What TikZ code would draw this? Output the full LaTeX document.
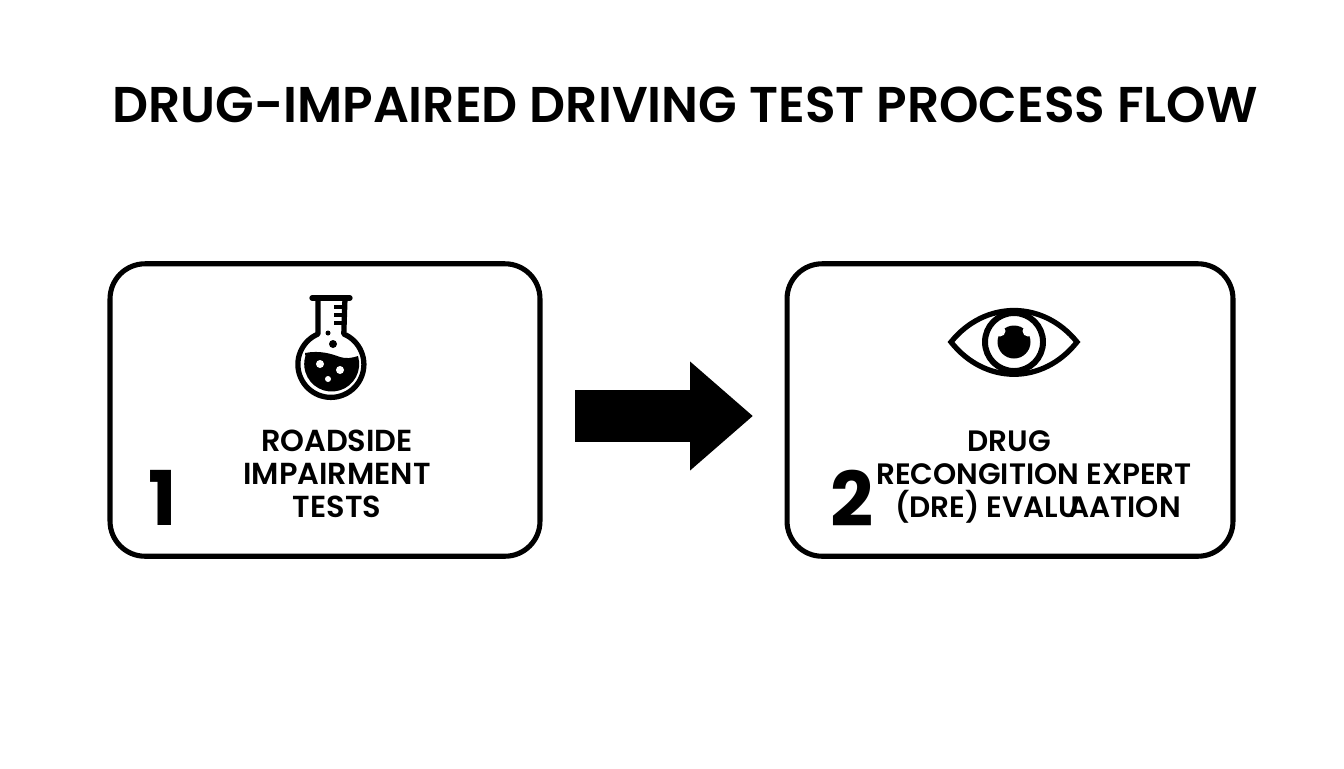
\documentclass[tikz,border=0pt]{standalone}
\usepackage{fontspec}
\setmainfont{Poppins SemiBold}[BoldFont=Poppins Bold]
\usetikzlibrary{arrows.meta, positioning}

\begin{document}
\begin{tikzpicture}[
            x=0.02cm, y=-0.02cm,
            % Style for the two rounded boxes
            stepbox/.style={draw, line width=2.9pt, rounded corners=0.7cm, minimum height=5.85cm, outer sep=0},
            % Style for the text lines inside the boxes
            info/.style={font=\fontsize{16.8}{20}\selectfont, inner sep=0},
            infobig/.style={font=\fontsize{17.3}{20}\selectfont, inner sep=0},
            % Style for the big numbers
            bignum/.style={font=\fontsize{43}{50}\selectfont\bfseries, inner sep=0},
            % Style for the icon strokes
            icon/.style={draw, line width=3pt, line join=round}
        ]
        \useasboundingbox (0,0) rectangle (1344,768);

        % --- Title ---
        \node[font=\fontsize{28.6}{34}\selectfont, inner sep=0] (title) at (685,105) {DRUG-IMPAIRED DRIVING TEST PROCESS FLOW};

        % --- Boxes ---
        \node[stepbox, minimum width=8.6cm] (roadside) at (325,410) {};
        \node[stepbox, minimum width=8.92cm] (dre) at (1010,410) {};

        % --- Numbers ---
        \node[bignum] (numone) at (163,498) {1};
        \node[bignum] (numtwo) at (852,498) {2};

        % --- Text of the first box ---
        \node[infobig] (roadline) at (337,441) {ROADSIDE};
        \node[infobig] (impairline) at (337,474) {IMPAIRMENT};
        \node[infobig] (testsline) at (337,507) {TESTS};

        % --- Text of the second box ---
        \node[info] (drugline) at (1009,441) {DRUG};
        \node[info] (reconline) at (1034,474) {RECONGITION EXPERT};
        \node[info] (evalline) at (1038,507) {(DRE) EVALU\kern-0.35em AATION};

        % --- Block arrow between the boxes ---
        \coordinate (arrowstart) at (575,416);
        \coordinate (arrowend) at (753,416);
        \draw[line width=30pt, -{Triangle[length=1.26cm, width=2.1cm]}] (arrowstart) -- (arrowend);

        % --- Flask icon ---
        \draw[icon, line cap=round] (312,298) -- (350,298);
        \draw[icon] (318,298) -- (318,334) arc[start angle=247, end angle=-67, radius=33] -- (345,298);
        % Scale marks on the neck
        \foreach \y in {307,315,323} {
            \draw[line width=2.3pt] (334,\y) -- (345,\y);
        }
        % Liquid
        \fill (305,353) .. controls (320,350) and (332,354) .. (340,357)
            .. controls (346,359) and (352,358) .. (358,356)
            arc[start angle=-17, end angle=197, radius=27.5] -- cycle;
        \fill (333,344) circle[radius=4];
        \fill (328,333) circle[radius=2.5];
        % Holes in the liquid
        \foreach \x/\y/\r in {320/364/4, 340/370/4, 328/379/3} {
            \fill[white] (\x,\y) circle[radius=\r];
        }

        % --- Eye icon ---
        \draw[icon, line join=miter] (951,342) .. controls (985,300) and (1043,300) .. (1077,342)
            .. controls (1043,385) and (985,385) .. (951,342) -- cycle;
        \draw[line width=3.4pt, fill=white] (1014,342) circle[radius=29];
        \fill (1014,342) circle[radius=16.5];
        \foreach \x in {1000,1028} {
            \fill[white] (\x,331) circle[radius=5.5];
        }
\end{tikzpicture}
\end{document}
